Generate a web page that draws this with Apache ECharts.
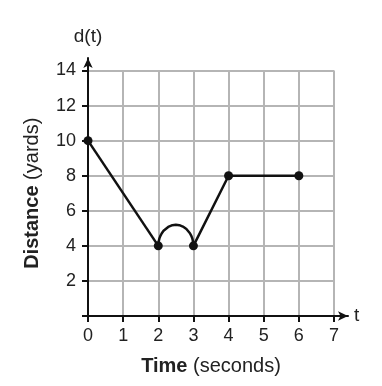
<!DOCTYPE html>
<html><head><meta charset="utf-8">
<script src="https://cdn.jsdelivr.net/npm/echarts@6/dist/echarts.min.js"></script>
<style>html,body{margin:0;padding:0;background:#fff}#c{width:382px;height:386px}</style>
</head><body><div id="c"></div>
<script>
// Data
const xTicks = [0, 1, 2, 3, 4, 5, 6, 7];
const yTicks = [0, 2, 4, 6, 8, 10, 12, 14];
const seg1T = [0, 2];
const seg1D = [10, 4];
const arcT = [2, 2.01, 2.03, 2.06, 2.1, 2.15, 2.2, 2.3, 2.4, 2.5, 2.6, 2.7, 2.8, 2.85, 2.9, 2.94, 2.97, 2.99, 3];
const arcD = [4, 4.24, 4.41, 4.57, 4.72, 4.86, 4.96, 5.1, 5.18, 5.2, 5.18, 5.1, 4.96, 4.86, 4.72, 4.57, 4.41, 4.24, 4];
const seg2T = [3, 4, 6];
const seg2D = [4, 8, 8];

const zip = (a, b) => a.map((v, i) => [v, b[i]]);
const font = 'Liberation Sans, Arial, sans-serif';
const ink = '#111';
const txt = '#222';

const chart = echarts.init(document.getElementById('c'));
chart.setOption({
  animation: false,
  grid: [
    {left: 88, right: 48, top: 70.5, bottom: 70},
    {left: 88, right: 34, top: 58, bottom: 70}
  ],
  xAxis: [
    {
      gridIndex: 0, type: 'value', min: xTicks[0], max: xTicks[xTicks.length - 1], interval: 1,
      axisLine: {show: false},
      axisTick: {show: true, length: 6, lineStyle: {color: ink, width: 2}},
      axisLabel: {color: txt, fontSize: 18, fontFamily: font, margin: 11},
      splitLine: {show: true, lineStyle: {color: '#b5b5b5', width: 2}},
      name: '{b|Time} (seconds)',
      nameLocation: 'middle', nameGap: 40,
      nameTextStyle: {color: txt, fontSize: 20, fontFamily: font,
        rich: {b: {fontWeight: 'bold', fontSize: 20, fontFamily: font, color: txt}}}
    },
    {
      gridIndex: 1, type: 'value', min: 0, max: 1,
      axisLine: {show: true, symbol: ['none', 'arrow'], symbolSize: [7, 10], lineStyle: {color: ink, width: 2}},
      axisTick: {show: false}, axisLabel: {show: false}, splitLine: {show: false},
      name: 't', nameLocation: 'end', nameGap: 6,
      nameTextStyle: {color: txt, fontSize: 19, fontFamily: font, verticalAlign: 'middle'}
    }
  ],
  yAxis: [
    {
      gridIndex: 0, type: 'value', min: yTicks[0], max: yTicks[yTicks.length - 1], interval: 2,
      axisLine: {show: false},
      axisTick: {show: true, length: 6, lineStyle: {color: ink, width: 2}},
      axisLabel: {color: txt, fontSize: 18, fontFamily: font, margin: 12,
        formatter: v => v === 0 ? '' : String(v)},
      splitLine: {show: true, lineStyle: {color: '#b5b5b5', width: 2}},
      name: '{b|Distance} (yards)',
      nameLocation: 'middle', nameGap: 46, nameRotate: 90,
      nameTextStyle: {color: txt, fontSize: 20, fontFamily: font,
        rich: {b: {fontWeight: 'bold', fontSize: 20, fontFamily: font, color: txt}}}
    },
    {
      gridIndex: 1, type: 'value', min: 0, max: 1,
      axisLine: {show: true, symbol: ['none', 'arrow'], symbolSize: [7, 10], lineStyle: {color: ink, width: 2}},
      axisTick: {show: false}, axisLabel: {show: false}, splitLine: {show: false},
      name: 'd(t)', nameLocation: 'end', nameGap: 12,
      nameTextStyle: {color: txt, fontSize: 19, fontFamily: font}
    }
  ],
  series: [
    {type: 'line', xAxisIndex: 0, yAxisIndex: 0, data: zip(seg1T, seg1D),
      symbol: 'circle', symbolSize: 9, itemStyle: {color: ink},
      lineStyle: {color: ink, width: 2.5}, z: 5},
    {type: 'line', xAxisIndex: 0, yAxisIndex: 0, data: zip(arcT, arcD),
      smooth: false, showSymbol: false, symbol: 'none',
      lineStyle: {color: ink, width: 2.5, join: 'round'}, z: 4},
    {type: 'line', xAxisIndex: 0, yAxisIndex: 0, data: zip(seg2T, seg2D),
      symbol: 'circle', symbolSize: 9, itemStyle: {color: ink},
      lineStyle: {color: ink, width: 2.5}, z: 5}
  ]
});
</script>
</body></html>
